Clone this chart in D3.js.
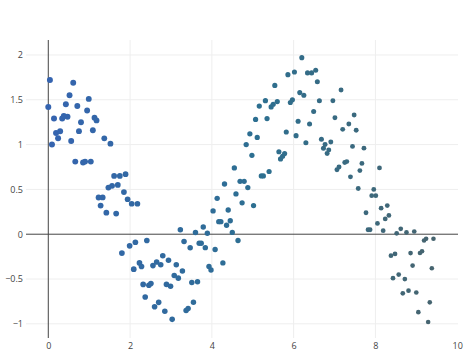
<!DOCTYPE html>
<html>
<head>
<meta charset="utf-8">
<script src="https://cdn.jsdelivr.net/npm/d3@7"></script>
<style>
  html, body { margin: 0; padding: 0; background: #fff; }
  svg text { font-family: "Open Sans", "Noto Sans", sans-serif; }
</style>
</head>
<body>
<div id="chart"></div>
<script>
// Data
const xValues = [0.00,0.04,0.09,0.14,0.19,0.24,0.29,0.34,0.38,0.43,0.47,0.52,0.56,0.61,0.66,0.71,0.75,0.80,0.85,0.90,0.95,0.99,1.04,1.09,1.13,1.18,1.23,1.28,1.33,1.37,1.42,1.47,1.52,1.56,1.61,1.66,1.70,1.75,1.80,1.85,1.89,1.94,1.99,2.04,2.09,2.13,2.18,2.23,2.28,2.32,2.37,2.41,2.46,2.51,2.56,2.60,2.65,2.70,2.75,2.80,2.85,2.89,2.94,2.99,3.03,3.08,3.13,3.18,3.23,3.28,3.32,3.37,3.42,3.47,3.51,3.55,3.60,3.65,3.69,3.74,3.79,3.84,3.89,3.93,3.98,4.03,4.08,4.13,4.17,4.22,4.27,4.31,4.36,4.40,4.45,4.50,4.55,4.59,4.64,4.69,4.74,4.79,4.84,4.88,4.93,4.98,5.02,5.07,5.11,5.16,5.21,5.26,5.31,5.35,5.40,5.45,5.50,5.54,5.60,5.64,5.68,5.73,5.78,5.82,5.86,5.92,5.97,6.02,6.06,6.11,6.15,6.20,6.25,6.30,6.34,6.39,6.44,6.49,6.54,6.58,6.63,6.68,6.73,6.77,6.82,6.86,6.91,6.96,7.01,7.06,7.11,7.16,7.20,7.25,7.30,7.35,7.39,7.44,7.48,7.53,7.58,7.62,7.67,7.72,7.77,7.82,7.87,7.91,7.96,8.01,8.05,8.10,8.14,8.19,8.24,8.29,8.33,8.38,8.43,8.48,8.52,8.57,8.62,8.67,8.72,8.76,8.81,8.86,8.91,8.95,9.00,9.05,9.09,9.14,9.19,9.24,9.29,9.33,9.38,9.42];
const yValues = [1.42,1.72,1.00,1.29,1.13,1.07,1.15,1.29,1.32,1.45,1.31,1.55,1.04,1.69,0.81,1.43,1.15,1.25,0.80,0.81,1.38,1.51,0.81,1.16,1.30,1.27,0.41,0.32,0.41,1.07,0.24,0.52,1.01,0.54,0.65,0.23,0.55,0.65,-0.21,0.47,0.67,0.39,-0.13,0.34,-0.39,-0.09,0.34,-0.32,-0.36,-0.56,-0.70,-0.07,-0.57,-0.55,-0.35,-0.81,-0.31,-0.76,-0.34,-0.24,-0.86,-0.56,-0.29,-0.58,-0.95,-0.46,-0.34,-0.49,0.05,-0.41,-0.08,-0.85,-0.83,-0.15,-0.54,-0.76,0.02,-0.53,-0.10,-0.10,0.08,-0.15,0.01,-0.36,-0.40,0.26,-0.17,0.40,0.14,0.14,-0.32,0.56,0.10,0.27,0.15,0.02,0.74,0.45,-0.07,0.59,0.35,0.59,1.00,0.52,1.12,0.88,0.32,1.28,1.08,1.43,0.65,0.65,1.49,1.29,0.70,1.42,1.45,1.66,1.48,0.92,0.84,0.87,0.90,1.14,1.78,1.47,1.50,1.81,1.10,1.26,1.58,1.97,1.55,1.02,1.80,1.23,1.80,1.37,1.83,1.70,1.49,1.06,0.96,1.00,0.90,0.94,1.03,1.49,1.30,0.72,0.75,1.61,1.17,0.80,0.81,1.23,0.64,0.98,1.33,1.16,0.51,0.71,0.79,0.96,0.24,0.05,0.05,0.43,0.50,0.43,0.12,0.74,0.29,0.04,0.17,0.32,0.21,-0.24,-0.49,-0.22,0.01,-0.45,0.06,-0.66,-0.50,0.02,-0.63,-0.21,-0.35,0.03,-0.65,-0.87,-0.21,-0.19,-0.07,-0.05,-0.98,-0.76,-0.38,-0.05];

const xTicks = [0, 2, 4, 6, 8, 10];
const yTicks = [-1, -0.5, 0, 0.5, 1, 1.5, 2];

const W = 474, H = 364;
const plot = { left: 26, right: 458, top: 40, bottom: 338 };

const x = d3.scaleLinear().domain([-0.545, 10.02]).range([plot.left, plot.right]);
const y = d3.scaleLinear().domain([-1.158, 2.167]).range([plot.bottom, plot.top]);

const svg = d3.select("#chart").append("svg")
  .attr("width", W).attr("height", H);

// grid
const g = svg.append("g");
g.selectAll("line.gx").data(xTicks.filter(t => t !== 0 && x(t) < plot.right - 2))
  .join("line").attr("class", "gx")
  .attr("x1", d => x(d)).attr("x2", d => x(d))
  .attr("y1", plot.top).attr("y2", plot.bottom)
  .attr("stroke", "#eeeeee").attr("stroke-width", 1);
g.selectAll("line.gy").data(yTicks.filter(t => t !== 0))
  .join("line").attr("class", "gy")
  .attr("x1", plot.left).attr("x2", plot.right)
  .attr("y1", d => y(d)).attr("y2", d => y(d))
  .attr("stroke", "#eeeeee").attr("stroke-width", 1);

// zero lines
svg.append("line")
  .attr("x1", x(0)).attr("x2", x(0)).attr("y1", plot.top).attr("y2", plot.bottom)
  .attr("stroke", "#444").attr("stroke-width", 1);
svg.append("line")
  .attr("x1", plot.left).attr("x2", plot.right).attr("y1", y(0)).attr("y2", y(0))
  .attr("stroke", "#444").attr("stroke-width", 1);

// axes labels via d3 axes
const fmt = d => (d < 0 ? "\u2212" + Math.abs(d) : String(d));
const xAxis = svg.append("g").attr("transform", `translate(0,${plot.bottom})`)
  .call(d3.axisBottom(x).tickValues(xTicks).tickFormat(fmt).tickSize(0).tickPadding(5));
const yAxis = svg.append("g").attr("transform", `translate(${plot.left},0)`)
  .call(d3.axisLeft(y).tickValues(yTicks).tickFormat(fmt).tickSize(0).tickPadding(3));
[xAxis, yAxis].forEach(a => {
  a.select(".domain").remove();
  a.selectAll("text").attr("fill", "#444").style("font-size", "9px");
});

// points
const n = xValues.length;
const color = d3.scaleLinear()
  .domain([0, n * 0.55, n - 1])
  .range(["#3564b0", "#2d6f90", "#46646f"])
  .interpolate(d3.interpolateRgb);
const radius = d3.scaleLinear().domain([0, n - 1]).range([3.0, 2.3]);

svg.append("g").selectAll("circle").data(xValues.map((v, i) => ({ x: v, y: yValues[i], i })))
  .join("circle")
  .attr("cx", d => x(d.x)).attr("cy", d => y(d.y))
  .attr("r", d => radius(d.i))
  .attr("fill", d => color(d.i));
</script>
</body>
</html>
